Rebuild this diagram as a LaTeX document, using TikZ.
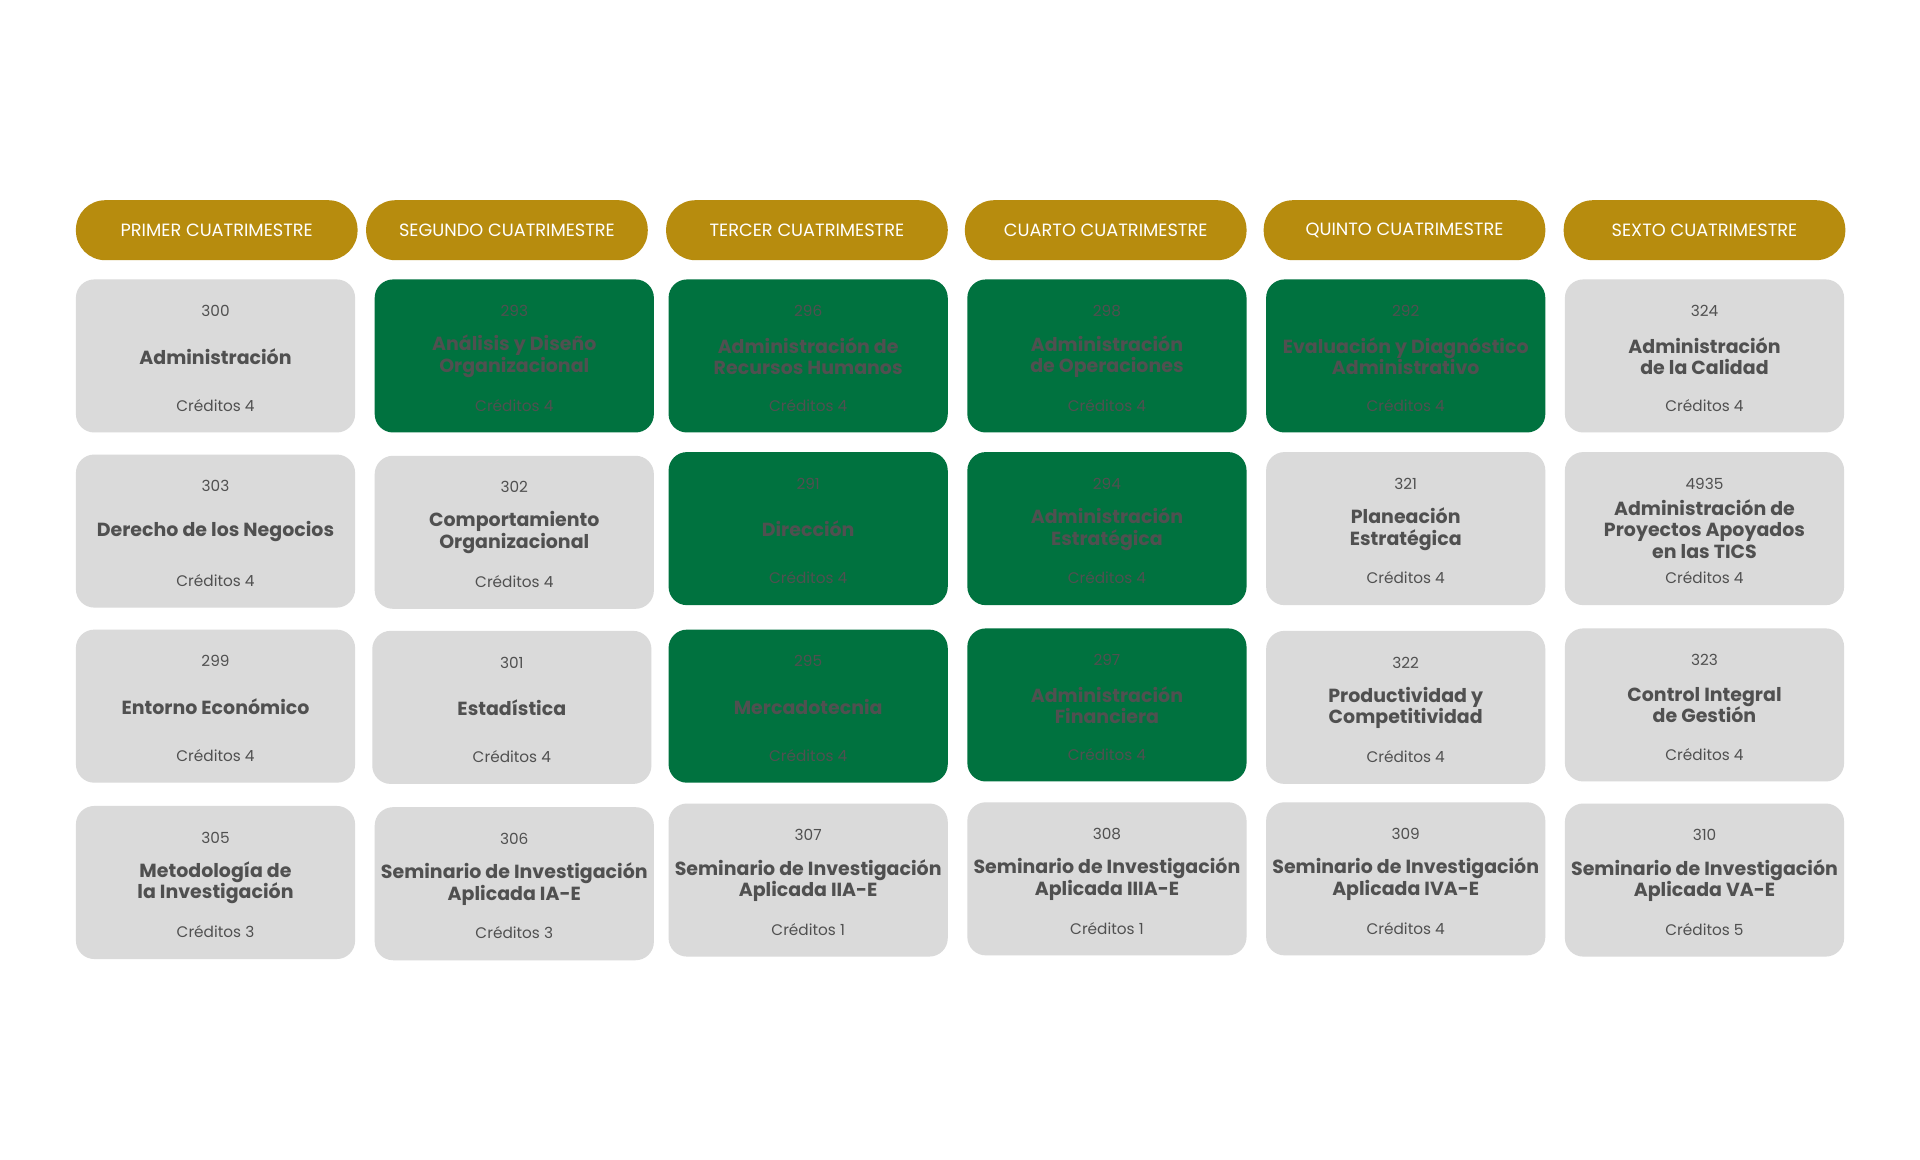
\documentclass[tikz,border=0pt]{standalone}
\usepackage{fontspec}
\setmainfont{Poppins}
\usetikzlibrary{calc}
\definecolor{gold}{RGB}{183,140,14}
\definecolor{grn}{RGB}{0,114,63}
\definecolor{gry}{RGB}{218,218,218}
\definecolor{txt}{RGB}{80,80,80}
\tikzset{
 hdr/.style={fill=gold,rounded corners=24pt,minimum width=230pt,minimum height=49pt,text=white,font=\fontsize{14.5}{16}\selectfont,inner sep=0},
 box/.style={rounded corners=15pt,minimum width=228pt,minimum height=125pt,anchor=north,inner sep=0,draw=none},
 gbox/.style={box,fill=grn},
 lbox/.style={box,fill=gry},
 num/.style={font=\fontsize{12.5}{14}\selectfont},
 ttl/.style={font=\fontsize{15.5}{17.5}\selectfont\bfseries,align=center},
 cred/.style={font=\fontsize{12.5}{14}\selectfont}
}
\newcommand\crs[7]{%
 \node[#4] (#1) at (#2,#3) {};
 \begin{scope}[every node/.style={text=\ifx#4gbox white\else txt\fi}]
 \node[num] (#1n) at ($(#1.north)+(0,26)$) {#5};
 \node[ttl] (#1t) at ($(#1.north)+(0,63)$) {#6};
 \node[cred] (#1c) at ($(#1.north)+(0,103)$) {Créditos #7};
 \end{scope}}
\begin{document}
\begin{tikzpicture}[x=1pt,y=-1pt]
\useasboundingbox[fill=white] (0,0) rectangle (1568,947);
\node[hdr] (h1) at (177,188) {PRIMER CUATRIMESTRE};
\node[hdr] (h2) at (414,188) {SEGUNDO CUATRIMESTRE};
\node[hdr] (h3) at (659,188) {TERCER CUATRIMESTRE};
\node[hdr] (h4) at (903,188) {CUARTO CUATRIMESTRE};
\node[hdr] (h5) at (1147,188) {QUINTO CUATRIMESTRE};
\node[hdr] (h6) at (1392,188) {SEXTO CUATRIMESTRE};
% column 1
\crs{a1}{176}{228}{lbox}{300}{Administración}{4}
\crs{a2}{176}{371}{lbox}{303}{Derecho de los Negocios}{4}
\crs{a3}{176}{514}{lbox}{299}{Entorno Económico}{4}
\crs{a4}{176}{658}{lbox}{305}{Metodología de\\la Investigación}{3}
% column 2
\crs{b1}{420}{228}{gbox}{293}{Análisis y Diseño\\Organizacional}{4}
\crs{b2}{420}{372}{lbox}{302}{Comportamiento\\Organizacional}{4}
\crs{b3}{418}{515}{lbox}{301}{Estadística}{4}
\crs{b4}{420}{659}{lbox}{306}{Seminario de Investigación\\Aplicada IA-E}{3}
% column 3
\crs{c1}{660}{228}{gbox}{296}{Administración de\\Recursos Humanos}{4}
\crs{c2}{660}{369}{gbox}{291}{Dirección}{4}
\crs{c3}{660}{514}{gbox}{295}{Mercadotecnia}{4}
\crs{c4}{660}{656}{lbox}{307}{Seminario de Investigación\\Aplicada IIA-E}{1}
% column 4
\crs{d1}{904}{228}{gbox}{298}{Administración\\de Operaciones}{4}
\crs{d2}{904}{369}{gbox}{294}{Administración\\Estratégica}{4}
\crs{d3}{904}{513}{gbox}{297}{Administración\\Financiera}{4}
\crs{d4}{904}{655}{lbox}{308}{Seminario de Investigación\\Aplicada IIIA-E}{1}
% column 5
\crs{e1}{1148}{228}{gbox}{292}{Evaluación y Diagnóstico\\Administrativo}{4}
\crs{e2}{1148}{369}{lbox}{321}{Planeación\\Estratégica}{4}
\crs{e3}{1148}{515}{lbox}{322}{Productividad y\\Competitividad}{4}
\crs{e4}{1148}{655}{lbox}{309}{Seminario de Investigación\\Aplicada IVA-E}{4}
% column 6
\crs{f1}{1392}{228}{lbox}{324}{Administración\\de la Calidad}{4}
\crs{f2}{1392}{369}{lbox}{4935}{Administración de\\Proyectos Apoyados\\en las TICS}{4}
\crs{f3}{1392}{513}{lbox}{323}{Control Integral\\de Gestión}{4}
\crs{f4}{1392}{656}{lbox}{310}{Seminario de Investigación\\Aplicada VA-E}{5}
\end{tikzpicture}
\end{document}
